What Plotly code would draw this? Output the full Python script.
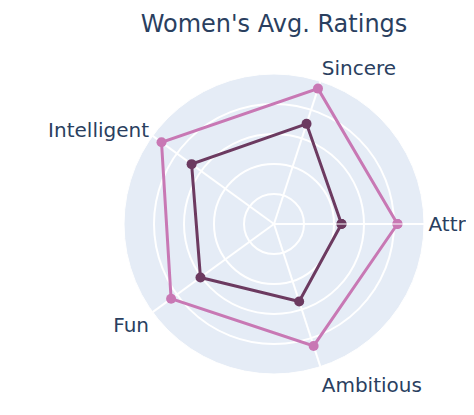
import plotly.graph_objects as go

# Attributes around the radar
categories = ["Attractive", "Sincere", "Intelligent", "Fun", "Ambitious"]

# Average ratings
ratings_outer = [8.23, 9.49, 9.27, 8.48, 8.55]
ratings_inner = [4.5, 7.02, 6.79, 6.06, 5.43]

fig = go.Figure()

fig.add_trace(go.Scatterpolar(
    r=ratings_outer + ratings_outer[:1],
    theta=categories + categories[:1],
    mode="lines+markers",
    name="Ideal",
    line=dict(color="rgb(200, 120, 180)", width=3),
    marker=dict(size=10)
))

fig.add_trace(go.Scatterpolar(
    r=ratings_inner + ratings_inner[:1],
    theta=categories + categories[:1],
    mode="lines+markers",
    name="Actual",
    line=dict(color="rgb(108, 58, 96)", width=3),
    marker=dict(size=10)
))

fig.update_layout(
    width=474,
    height=415,
    margin=dict(l=58, r=0, t=66, b=49),
    title=dict(text="Women's Avg. Ratings", x=0.5, xref="paper",
               y=1 - 16 / 415, yanchor="middle", font=dict(size=24)),
    showlegend=False,
    font=dict(family="DejaVu Sans", size=20),
    polar=dict(
        radialaxis=dict(range=[0, 10], dtick=2, showticklabels=False, ticks="",
                        gridwidth=1.5),
        angularaxis=dict(tickfont=dict(size=20), gridwidth=1.5),
    ),
)

fig.write_html("out.html")
